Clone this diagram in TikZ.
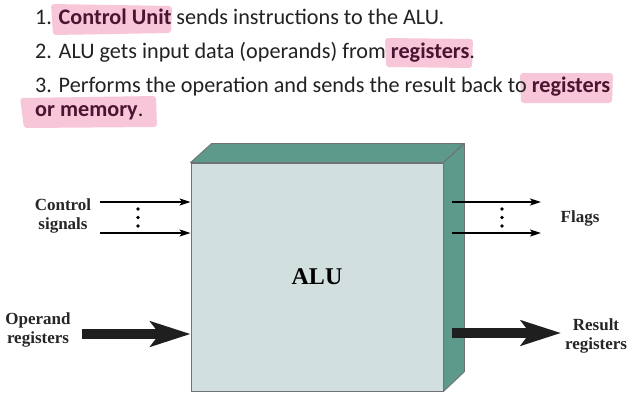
\documentclass[tikz,border=0pt]{standalone}
\usepackage{fontspec}
\setmainfont{Liberation Serif}
\newfontfamily\calib{Carlito}
\usetikzlibrary{arrows.meta}
\definecolor{txtgray}{HTML}{222222}
\definecolor{hlword}{HTML}{4A1530}
\definecolor{hlpink}{HTML}{F7C6D8}
\definecolor{frontc}{HTML}{D2DFDF}
\definecolor{tealc}{HTML}{5E9A8C}
\definecolor{edgec}{HTML}{6E7474}
\tikzset{
  bodytext/.style={anchor=base west, inner sep=0pt, font=\calib\fontsize{22.2}{26}\selectfont, text=txtgray},
  hl/.style={fill=hlpink, rounded corners=3pt},
  lbl/.style={font=\bfseries\fontsize{17}{19}\selectfont, text=black!85, align=center, inner sep=0pt},
  thinarrow/.style={line width=1.5pt, -{Stealth[length=11pt,width=7pt,inset=2.5pt]}},
  thickarrow/.style={line width=10pt, -{Stealth[length=40pt,width=25pt,inset=9pt]}, black!88},
  dot/.style={circle, fill=black, inner sep=0pt, minimum size=3.6pt},
  face/.style={fill=tealc, draw=edgec, line width=0.9pt, line join=round}
}
\newcommand{\hw}[1]{\textbf{\textcolor{hlword}{#1}}}
\begin{document}
\begin{tikzpicture}[x=1pt,y=-1pt]
\useasboundingbox (0,0) rectangle (644,400);
\fill[white] (0,0) rectangle (644,400);
% highlights
\fill[hl] (51,4) -- (172,6) -- (171,33) -- (53,35) -- cycle;
\fill[hl] (385,38) -- (473,39) -- (472,68) -- (386,67) -- cycle;
\fill[hl] (520,73) -- (613,73) -- (612,103) -- (521,103) -- cycle;
\fill[hl] (20,98) -- (156,96) -- (157,127) -- (24,128) -- cycle;
% text lines
\node[bodytext] (l1) at (35,24) {1. \hw{Control Unit} sends instructions to the ALU.};
\node[bodytext] (l2) at (35,58) {2. ALU gets input data (operands) from \hw{registers}.};
\node[bodytext] (l3) at (35,92) {3. Performs the operation and sends the result back to \hw{registers}};
\node[bodytext] (l4) at (35,116) {\hw{or memory}.};
% ALU box
\node[draw=edgec, line width=0.9pt, fill=frontc, minimum width=252pt, minimum height=228pt, inner sep=0pt, font=\bfseries\fontsize{24}{28}\selectfont] (alu) at (317,277) {ALU};
\draw[face] (alu.north west) -- ++(21,-19) -- ++(252,0) -- (alu.north east) -- cycle;
\draw[face] (alu.north east) -- ++(21,-19) -- ++(0,228) -- (alu.south east) -- cycle;
% control signals
\coordinate (cs1) at (100,202);
\coordinate (cs2) at (100,233);
\draw[thinarrow] (cs1) -- (cs1 -| alu.west);
\draw[thinarrow] (cs2) -- (cs2 -| alu.west);
\node[dot] (d1) at (138,209) {};
\node[dot] (d2) at (138,217.5) {};
\node[dot] (d3) at (138,226) {};
\node[lbl] (ctl) at (63,216) {Control\\signals};
% operand
\coordinate (op) at (82,334);
\draw[thickarrow] (op) -- (op -| alu.west);
\node[lbl] (opl) at (38,330) {Operand\\registers};
% flags
\coordinate (f1s) at (452,202);
\coordinate (f1e) at (541,202);
\coordinate (f2s) at (452,233);
\coordinate (f2e) at (541,233);
\draw[thinarrow] (f1s) -- (f1e);
\draw[thinarrow] (f2s) -- (f2e);
\node[dot] (e1) at (502,209) {};
\node[dot] (e2) at (502,217.5) {};
\node[dot] (e3) at (502,226) {};
\node[lbl] (fl) at (580,218) {Flags};
% result
\coordinate (rs) at (452,333);
\coordinate (re) at (561,333);
\draw[thickarrow] (rs) -- (re);
\node[lbl] (rl) at (596,336) {Result\\registers};
\end{tikzpicture}
\end{document}
